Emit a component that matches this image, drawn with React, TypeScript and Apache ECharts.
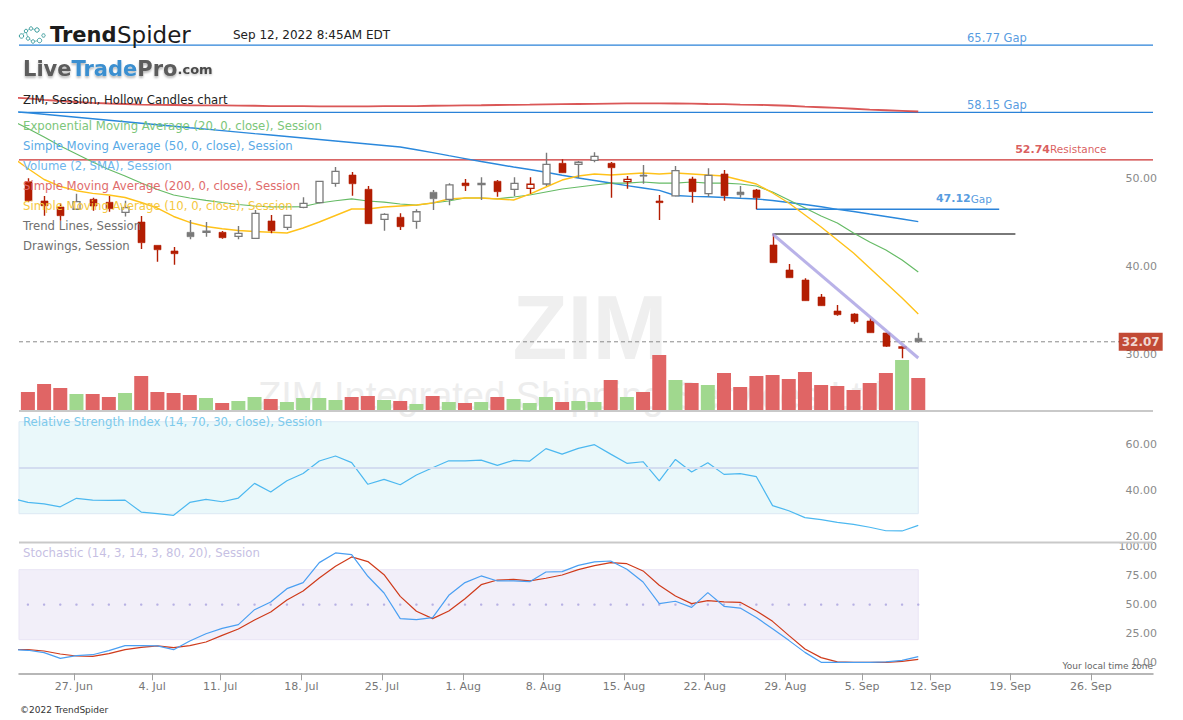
import React, { useEffect, useRef } from "react";
import * as echarts from "echarts";

// ---------- DATA ----------
// index 0 = 21 Jun (off-screen, only for line continuity), candles are indices 1..56
const dates = [
  "2022-06-21", "2022-06-22", "2022-06-23", "2022-06-24", "2022-06-27", "2022-06-28", "2022-06-29", "2022-06-30", "2022-07-01",
  "2022-07-05", "2022-07-06", "2022-07-07", "2022-07-08", "2022-07-11", "2022-07-12", "2022-07-13", "2022-07-14", "2022-07-15",
  "2022-07-18", "2022-07-19", "2022-07-20", "2022-07-21", "2022-07-22", "2022-07-25", "2022-07-26", "2022-07-27", "2022-07-28", "2022-07-29",
  "2022-08-01", "2022-08-02", "2022-08-03", "2022-08-04", "2022-08-05", "2022-08-08", "2022-08-09", "2022-08-10", "2022-08-11", "2022-08-12",
  "2022-08-15", "2022-08-16", "2022-08-17", "2022-08-18", "2022-08-19", "2022-08-22", "2022-08-23", "2022-08-24", "2022-08-25", "2022-08-26",
  "2022-08-29", "2022-08-30", "2022-08-31", "2022-09-01", "2022-09-02", "2022-09-06", "2022-09-07", "2022-09-08", "2022-09-09",
];

const priorClose = 50.6;
const opens = [50.26, 48.07, 47.39, 47.13, 48.26, 47.92, 46.78, 45.68, 43.03, 42.39, 44.51, 44.6, 44.51, 44.06, 43.83, 45.8, 45.08, 47.35, 47.88, 50.08, 51.02, 49.4, 45.99, 46.22, 45.76, 49.06, 48.26, 50.11, 50.0, 50.31, 49.4, 49.51, 50.0, 52.35, 52.24, 52.69, 52.35, 50.26, 51.02, 48.07, 48.64, 50.57, 48.9, 51.14, 49.09, 49.32, 43.07, 40.23, 39.09, 37.16, 35.57, 35.23, 34.43, 33.07, 31.42, 32.47];
const highs = [50.65, 48.64, 47.81, 48.9, 48.44, 48.64, 48.1, 46.36, 43.05, 42.84, 45.91, 45.68, 44.66, 45.23, 47.05, 46.48, 46.48, 48.49, 50.34, 51.93, 51.36, 49.77, 46.67, 46.67, 47.12, 49.32, 50.08, 50.57, 50.76, 50.45, 50.76, 50.76, 53.56, 52.81, 52.61, 53.6, 52.5, 50.91, 52.16, 48.75, 52.05, 50.83, 51.78, 51.59, 49.77, 49.43, 44.32, 40.91, 39.28, 37.5, 36.25, 35.31, 34.74, 33.1, 31.62, 33.1];
const lows = [47.95, 46.4, 45.83, 47.05, 46.97, 46.85, 46.3, 42.61, 41.17, 40.83, 43.72, 44.01, 43.78, 43.72, 43.8, 44.4, 44.77, 47.24, 47.81, 49.69, 48.67, 45.45, 44.69, 44.77, 44.92, 47.05, 47.58, 49.2, 48.18, 48.56, 48.64, 48.9, 49.77, 51.25, 50.68, 52.47, 48.44, 49.47, 50.03, 45.91, 48.6, 47.88, 48.56, 48.1, 48.44, 47.12, 41.03, 39.32, 36.7, 36.14, 35.03, 34.13, 33.07, 31.48, 30.19, 31.97];
const closes = [48.1, 47.53, 46.4, 47.99, 47.5, 47.19, 47.31, 43.33, 42.53, 42.08, 44.01, 44.65, 43.9, 44.4, 46.67, 44.69, 46.44, 47.81, 50.31, 51.44, 50.03, 45.49, 46.56, 45.15, 46.85, 48.33, 49.89, 49.81, 50.08, 49.13, 50.08, 49.97, 52.24, 51.28, 52.47, 53.15, 51.85, 50.53, 50.98, 47.88, 51.51, 49.13, 50.99, 48.67, 48.78, 48.44, 41.06, 39.35, 36.74, 36.17, 35.15, 34.35, 33.1, 31.55, 31.5, 32.07];
// volume, millions of shares
const volumes = [3.74, 5.34, 4.54, 3.34, 3.34, 2.74, 3.54, 6.94, 3.74, 3.54, 3.14, 2.54, 1.54, 1.94, 2.74, 2.34, 1.74, 2.54, 2.54, 2.14, 2.74, 2.94, 2.14, 1.94, 1.34, 2.94, 1.74, 1.54, 1.74, 2.74, 2.34, 1.54, 2.74, 1.74, 1.94, 1.74, 6.14, 2.74, 3.74, 11.14, 6.14, 5.54, 5.14, 7.54, 4.74, 6.94, 7.14, 6.34, 7.74, 5.14, 4.94, 4.14, 5.54, 7.54, 10.14, 6.54];

// moving averages, indices 0..56
const sma10 = [53.07, 51.76, 50.51, 49.72, 49.24, 48.94, 48.75, 48.47, 47.9, 47.27, 46.31, 45.63, 45.17, 44.91, 44.72, 44.6, 44.52, 44.43, 45.0, 45.68, 46.42, 47.16, 47.16, 47.39, 47.5, 47.61, 47.84, 48.3, 48.41, 48.41, 48.3, 48.18, 48.86, 49.66, 50.45, 50.91, 51.14, 51.02, 51.14, 51.25, 51.14, 51.25, 51.14, 51.02, 50.91, 50.45, 50.0, 48.98, 47.84, 46.48, 45.11, 43.64, 42.16, 40.45, 38.75, 37.05, 35.23];
const ema20 = [57.22, 56.3, 55.34, 54.32, 53.41, 52.5, 51.65, 50.91, 50.11, 49.38, 48.75, 48.41, 48.15, 47.9, 47.67, 47.5, 47.39, 47.39, 47.44, 47.84, 48.1, 48.3, 48.07, 47.95, 47.73, 47.61, 47.84, 48.07, 48.41, 48.41, 48.3, 48.52, 48.75, 49.09, 49.43, 49.66, 49.89, 50.11, 50.11, 50.23, 50.11, 50.11, 50.23, 50.11, 50.11, 50.0, 49.77, 49.09, 48.18, 47.27, 46.36, 45.57, 44.43, 43.41, 42.5, 41.36, 40.0];
const sma50 = [58.24, 58.1, 57.93, 57.76, 57.59, 57.42, 57.25, 57.08, 56.91, 56.74, 56.57, 56.4, 56.24, 56.07, 55.9, 55.73, 55.57, 55.4, 55.23, 55.06, 54.89, 54.72, 54.55, 54.38, 54.2, 53.89, 53.56, 53.22, 52.89, 52.56, 52.24, 51.93, 51.65, 51.33, 51.0, 50.68, 50.4, 50.11, 49.82, 49.55, 49.28, 48.69, 48.6, 48.55, 48.47, 48.38, 48.3, 48.13, 47.9, 47.67, 47.41, 47.12, 46.88, 46.59, 46.31, 46.02, 45.72];
const sma200 = [59.83, 59.72, 59.57, 59.43, 59.32, 59.23, 59.15, 59.09, 59.03, 59.0, 58.98, 58.95, 58.94, 58.93, 58.91, 58.89, 58.86, 58.85, 58.84, 58.83, 58.83, 58.83, 58.83, 58.84, 58.85, 58.86, 58.89, 58.91, 58.93, 58.95, 58.98, 59.0, 59.02, 59.05, 59.07, 59.09, 59.11, 59.14, 59.16, 59.17, 59.16, 59.15, 59.13, 59.09, 59.07, 59.03, 59.0, 58.95, 58.89, 58.8, 58.72, 58.64, 58.55, 58.45, 58.38, 58.31, 58.24];

// indicators, indices 0..56
const rsi = [36.7, 34.9, 34.3, 33.0, 36.7, 35.9, 35.8, 35.9, 30.7, 30.0, 29.3, 34.9, 36.2, 35.2, 36.8, 43.2, 39.4, 44.3, 47.5, 52.9, 55.1, 52.2, 42.8, 44.9, 42.6, 46.8, 50.0, 53.0, 53.0, 53.3, 51.0, 53.2, 52.9, 58.3, 55.9, 58.4, 60.0, 55.9, 51.9, 52.6, 44.3, 53.6, 48.1, 52.2, 47.1, 47.4, 46.1, 33.5, 31.3, 28.3, 27.4, 26.2, 25.4, 24.1, 22.6, 22.5, 24.9];
const stochK = [11.4, 10.9, 8.9, 4.0, 6.3, 7.1, 10.6, 14.9, 14.9, 14.6, 11.4, 18.9, 25.1, 29.7, 32.9, 45.7, 52.3, 63.7, 68.9, 86.0, 94.3, 92.9, 74.3, 60.0, 38.0, 37.1, 38.9, 58.0, 68.9, 74.6, 70.3, 70.3, 69.7, 78.0, 78.3, 83.7, 86.6, 87.4, 80.3, 69.4, 50.9, 52.9, 47.7, 60.3, 48.6, 47.1, 38.9, 29.4, 19.4, 9.1, 0.6, 0.6, 0.6, 0.6, 0.9, 2.3, 5.4];
const stochD = [11.7, 11.4, 10.3, 7.7, 6.0, 5.7, 8.0, 11.4, 13.4, 14.6, 13.1, 14.9, 18.0, 23.7, 29.1, 36.9, 43.7, 54.0, 61.7, 72.9, 82.9, 90.9, 86.9, 75.7, 57.1, 44.3, 38.0, 44.6, 55.1, 67.1, 71.1, 71.7, 70.3, 72.6, 75.4, 80.0, 83.4, 86.0, 85.1, 78.9, 66.6, 57.4, 50.9, 53.4, 52.3, 52.0, 44.6, 35.7, 23.7, 12.0, 4.6, 0.9, 0.6, 0.6, 0.6, 1.4, 3.1];

// x-axis week ticks (positions on the bar-index scale) and their labels
const tickPos = [3.84, 8.68, 12.87, 17.89, 22.87, 27.89, 32.85, 37.82, 42.81, 47.79, 52.53, 56.75, 61.67, 66.66];
const tickLabels = ["27. Jun", "4. Jul", "11. Jul", "18. Jul", "25. Jul", "1. Aug", "8. Aug", "15. Aug", "22. Aug", "29. Aug", "5. Sep", "12. Sep", "19. Sep", "26. Sep"];

// drawings
const fullGaps = [65.77, 58.15];
const resistance = 52.74;
const gap47 = { from: 46, to: 61.0, price: 47.12 };
const shelf = { from: 47, to: 62.0, price: 44.32 };
const trendLine = [[47, 44.32], [56, 30.23]];
const lastPrice = 32.07;
const priceTicks = [30, 40, 50];
const rsiTicks = [20, 40, 60];
const stochTicks = [0, 25, 50, 75, 100];

// ---------- CHART ----------
const X_MIN = 0.45;
const X_MAX = 70.5;
const FONT = "DejaVu Sans";
const RED = "#b31d02";
const GRAY = "#7a7a7a";

function buildOption(): any {
  const candleData = opens.map((o, i) => [i + 1, o, closes[i], lows[i], highs[i], i === 0 ? priorClose : closes[i - 1]]);
  const volData = volumes.map((v, i) => ({
    value: [i + 1, v],
    itemStyle: { color: closes[i] >= opens[i] ? "#a0d88e" : "#e06565" },
  }));
  const line = (name: string, data: number[], color: string, width: number, extra: any = {}) => ({
    type: "line",
    name,
    xAxisIndex: 0,
    yAxisIndex: 0,
    data: data.map((v, i) => [i, v]),
    showSymbol: false,
    symbol: "none",
    silent: true,
    z: 4,
    lineStyle: { color, width },
    ...extra,
  });
  const seg = (pts: number[][], color: string, width: number) => ({
    type: "line",
    xAxisIndex: 0,
    yAxisIndex: 0,
    data: pts,
    showSymbol: false,
    symbol: "none",
    silent: true,
    z: 3,
    lineStyle: { color, width },
  });
  const tickFmt = (v: number) => {
    const k = tickPos.findIndex((t) => Math.abs(t - v) < 1e-6);
    return k >= 0 ? tickLabels[k] : "";
  };

  const legendItems: [string, string][] = [
    ["ZIM, Session, Hollow Candles chart", "#222222"],
    ["Exponential Moving Average (20, 0, close), Session", "#7cc67a"],
    ["Simple Moving Average (50, 0, close), Session", "#5aaae6"],
    ["Volume (2, SMA), Session", "#6db6ec"],
    ["Simple Moving Average (200, 0, close), Session", "#e06c6c"],
    ["Simple Moving Average (10, 0, close), Session", "#f5c842"],
    ["Trend Lines, Session", "#707070"],
    ["Drawings, Session", "#707070"],
  ];
  const legendY = [100, 126, 146, 166, 186, 206, 226, 246];

  const icon: any[] = [];
  const dots = [[21.5, 36], [26, 31], [31, 28.5], [37, 30], [28, 38.5], [33, 41.5], [39.5, 40.5], [43.5, 35.5]];
  const links = [[0, 1], [1, 2], [1, 4], [4, 5], [5, 6], [2, 3]];
  links.forEach(([a, b]) =>
    icon.push({ type: "line", shape: { x1: dots[a][0], y1: dots[a][1], x2: dots[b][0], y2: dots[b][1] }, style: { stroke: "#5fb3b3", lineWidth: 0.8 }, z: 100 })
  );
  dots.forEach(([x, y], k) =>
    icon.push({ type: "circle", shape: { cx: x, cy: y, r: k % 3 === 0 ? 2.2 : 1.7 }, style: { fill: "#fff", stroke: "#3a9c9c", lineWidth: 1 }, z: 101 })
  );

  const logoShadow = { textShadowColor: "rgba(0,0,0,0.28)", textShadowBlur: 2, textShadowOffsetY: 2 };

  const graphic: any[] = [
    // watermark
    { type: "text", z: -10, style: { text: "ZIM", x: 590, y: 328, font: `bold 90px "Liberation Sans"`, fill: "#efefef", textAlign: "center", textVerticalAlign: "middle" } },
    { type: "text", z: -10, style: { text: "ZIM Integrated Shipping Services Ltd", x: 258, y: 396, font: `38px "Liberation Sans"`, fill: "#ededed", textAlign: "left", textVerticalAlign: "middle" } },
    // header
    ...icon,
    { type: "text", z: 100, style: { text: "Trend", x: 50, y: 35, font: `bold 21px "${FONT}"`, fill: "#1c1c1c", textAlign: "left", textVerticalAlign: "middle" } },
    { type: "text", z: 100, style: { text: "Spider", x: 117, y: 35, font: `23px "${FONT}"`, fill: "#1c1c1c", textAlign: "left", textVerticalAlign: "middle" } },
    { type: "text", z: 100, style: { text: "Sep 12, 2022 8:45AM EDT", x: 233, y: 35, font: `12px "${FONT}"`, fill: "#222", textAlign: "left", textVerticalAlign: "middle" } },
    {
      type: "text",
      z: 100,
      style: {
        text: "{a|Live}{b|Trade}{a|Pro}{c|.com}",
        x: 23,
        y: 69,
        textAlign: "left",
        textVerticalAlign: "middle",
        rich: {
          a: { fontSize: 21, fontWeight: "bold", fontFamily: FONT, fill: "#5c5c5c", ...logoShadow },
          b: { fontSize: 21, fontWeight: "bold", fontFamily: FONT, fill: "#3a8fd0", ...logoShadow },
          c: { fontSize: 13, fontWeight: "bold", fontFamily: FONT, fill: "#4a4a4a", ...logoShadow, textShadowOffsetY: 1 },
        },
      },
    },
    ...legendItems.map(([t, c], k) => ({ type: "text", z: 100, style: { text: t, x: 23, y: legendY[k], font: `11.7px "${FONT}"`, fill: c, textAlign: "left", textVerticalAlign: "middle" } })),
    // pane separators
    { type: "line", z: 50, shape: { x1: 19, y1: 411, x2: 1153, y2: 411 }, style: { stroke: "#c9c9c9", lineWidth: 2 } },
    { type: "line", z: 50, shape: { x1: 19, y1: 542.5, x2: 1153, y2: 542.5 }, style: { stroke: "#c9c9c9", lineWidth: 2 } },
    // pane titles
    { type: "text", z: 100, style: { text: "Relative Strength Index (14, 70, 30, close), Session", x: 23, y: 422, font: `11.7px "${FONT}"`, fill: "#7dcaec", textAlign: "left", textVerticalAlign: "middle" } },
    { type: "text", z: 100, style: { text: "Stochastic (14, 3, 14, 3, 80, 20), Session", x: 23, y: 553, font: `11.7px "${FONT}"`, fill: "#c6bfe3", textAlign: "left", textVerticalAlign: "middle" } },
    { type: "text", z: 100, style: { text: "Your local time zone", x: 1153, y: 666, font: `9px "${FONT}"`, fill: "#666", textAlign: "right", textVerticalAlign: "middle" } },
    { type: "text", z: 100, style: { text: "©2022 TrendSpider", x: 20, y: 710, font: `9px "${FONT}"`, fill: "#333", textAlign: "left", textVerticalAlign: "middle" } },
  ];

  const xAxes = [0, 1, 2].map((g) => ({
    type: "value",
    gridIndex: g,
    min: X_MIN,
    max: X_MAX,
    show: g === 2,
    splitLine: { show: false },
    axisLine: { show: true, onZero: false, lineStyle: { color: "#a0a0a0", width: 1.5 } },
    axisTick: { show: true, customValues: tickPos, length: 7, lineStyle: { color: "#a0a0a0" } },
    axisLabel: { show: true, customValues: tickPos, formatter: tickFmt, color: "#777", fontSize: 11, fontFamily: FONT, margin: 8 },
  }));

  const yLab = (vals: number[], extra: any = {}) => ({
    show: true,
    customValues: vals,
    formatter: (v: number) => v.toFixed(2),
    color: "#8a8a8a",
    fontSize: 11,
    fontFamily: FONT,
    align: "right",
    margin: 4,
    ...extra,
  });

  const yAxes = [
    { type: "value", gridIndex: 0, position: "right", min: 24.24, max: 67.5, splitLine: { show: false }, axisLine: { show: false }, axisTick: { show: false }, axisLabel: yLab(priceTicks, { verticalAlign: "bottom" }) },
    { type: "value", gridIndex: 0, min: 0, max: 76.14, show: false, splitLine: { show: false } },
    { type: "value", gridIndex: 1, position: "right", min: 17.7, max: 74.35, splitLine: { show: false }, axisLine: { show: false }, axisTick: { show: false }, axisLabel: yLab(rsiTicks) },
    { type: "value", gridIndex: 2, position: "right", min: -8.83, max: 102.83, splitLine: { show: false }, axisLine: { show: false }, axisTick: { show: false }, axisLabel: yLab(stochTicks) },
  ];

  const lastIdx = dates.length - 1;

  const series: any[] = [
    {
      type: "bar",
      name: "Volume",
      xAxisIndex: 0,
      yAxisIndex: 1,
      data: volData,
      barWidth: 14,
      z: 1,
      silent: true,
    },
    // horizontal drawings
    ...fullGaps.map((p) => seg([[X_MIN, p], [X_MAX, p]], "#2a82d8", 1.3)),
    seg([[X_MIN, resistance], [X_MAX, resistance]], "#cc3232", 1.3),
    seg([[gap47.from, gap47.price], [gap47.to, gap47.price]], "#2a82d8", 1.5),
    seg([[shelf.from, shelf.price], [shelf.to, shelf.price]], "#4d4d4d", 1.5),
    {
      type: "line",
      xAxisIndex: 0,
      yAxisIndex: 0,
      data: trendLine,
      showSymbol: false,
      symbol: "none",
      silent: true,
      z: 6,
      lineStyle: { color: "#a79fe2", width: 3, opacity: 0.8 },
    },
    {
      type: "line",
      xAxisIndex: 0,
      yAxisIndex: 0,
      data: [[X_MIN, lastPrice], [68.45, lastPrice]],
      showSymbol: false,
      symbol: "none",
      silent: true,
      z: 3,
      lineStyle: { color: "#8a8a8a", width: 1, type: [4, 3] },
    },
    // moving averages
    line("SMA200", sma200, "#d43a3a", 1.8, { lineStyle: { color: "#d43a3a", width: 1.8, opacity: 0.85 } }),
    line("SMA50", sma50, "#2a88dc", 1.4),
    line("EMA20", ema20, "#66bb66", 1.2),
    line("SMA10", sma10, "#ffc21a", 1.4),
    // candles
    {
      type: "custom",
      name: "ZIM",
      xAxisIndex: 0,
      yAxisIndex: 0,
      data: candleData,
      encode: { x: 0, y: [1, 2, 3, 4] },
      clip: true,
      z: 5,
      silent: true,
      renderItem: (params: any, api: any) => {
        const i = api.value(0);
        const o = api.value(1);
        const c = api.value(2);
        const l = api.value(3);
        const h = api.value(4);
        const pc = api.value(5);
        const pO = api.coord([i, o]);
        const pC = api.coord([i, c]);
        const pL = api.coord([i, l]);
        const pH = api.coord([i, h]);
        const x = Math.round(pO[0]) + 0.5;
        const color = c > pc ? GRAY : RED;
        const hollow = c > o;
        const top = Math.min(pO[1], pC[1]);
        const bot = Math.max(pO[1], pC[1]);
        const bw = 7;
        const ht = Math.max(bot - top, 1.2);
        return {
          type: "group",
          children: [
            { type: "line", shape: { x1: x, y1: pH[1], x2: x, y2: top }, style: { stroke: color, lineWidth: 1.4 } },
            { type: "line", shape: { x1: x, y1: top + ht, x2: x, y2: Math.max(pL[1], top + ht) }, style: { stroke: color, lineWidth: 1.4 } },
            {
              type: "rect",
              shape: { x: x - bw / 2, y: top, width: bw, height: ht },
              style: { fill: hollow ? "#ffffff" : color, stroke: color, lineWidth: hollow ? 1.3 : 0.6 },
            },
          ],
        };
      },
    },
    // drawing labels and last price tag
    {
      type: "scatter",
      xAxisIndex: 0,
      yAxisIndex: 0,
      symbolSize: 0,
      silent: true,
      z: 10,
      data: [
        { value: [60.86, fullGaps[0]], label: { show: true, formatter: `${fullGaps[0].toFixed(2)} Gap`, position: "top", distance: 1, color: "#2a82d8", fontSize: 11.5, fontFamily: FONT } },
        { value: [60.86, fullGaps[1]], label: { show: true, formatter: `${fullGaps[1].toFixed(2)} Gap`, position: "top", distance: 1, color: "#2a82d8", fontSize: 11.5, fontFamily: FONT } },
        {
          value: [64.81, resistance],
          label: {
            show: true,
            formatter: `{b|${resistance.toFixed(2)}}{n|Resistance}`,
            position: "top",
            distance: 5,
            rich: { b: { fontWeight: "bold", fontSize: 11, color: "#d03434", fontFamily: FONT }, n: { fontSize: 10.5, color: "#d03434", fontFamily: FONT } },
          },
        },
        {
          value: [58.82, gap47.price],
          label: {
            show: true,
            formatter: `{b|${gap47.price.toFixed(2)}}{n|Gap}`,
            position: "top",
            distance: 5,
            rich: { b: { fontWeight: "bold", fontSize: 11, color: "#2a82d8", fontFamily: FONT }, n: { fontSize: 10.5, color: "#2a82d8", fontFamily: FONT } },
          },
        },
        {
          value: [69.74, lastPrice],
          label: {
            show: true,
            formatter: lastPrice.toFixed(2),
            position: "inside",
            backgroundColor: RED,
            color: "#ffffff",
            fontWeight: "bold",
            fontSize: 12,
            fontFamily: FONT,
            padding: [3, 3, 3, 3],
          },
        },
      ],
    },
    // RSI
    {
      type: "line",
      name: "RSI",
      xAxisIndex: 1,
      yAxisIndex: 2,
      data: rsi.map((v, i) => [i, v]),
      showSymbol: false,
      symbol: "none",
      silent: true,
      z: 4,
      lineStyle: { color: "#4cb8f0", width: 1.2 },
      markArea: {
        silent: true,
        itemStyle: { color: "#eaf8fa", borderColor: "#dce9f4", borderWidth: 1 },
        data: [[{ xAxis: X_MIN, yAxis: 30 }, { xAxis: lastIdx, yAxis: 70 }]],
      },
      markLine: {
        silent: true,
        symbol: "none",
        label: { show: false },
        lineStyle: { color: "#d3ddf0", width: 2, type: "solid" },
        data: [[{ coord: [X_MIN, 50] }, { coord: [lastIdx, 50] }]],
      },
    },
    // Stochastic
    {
      type: "line",
      name: "%D",
      xAxisIndex: 2,
      yAxisIndex: 3,
      data: stochD.map((v, i) => [i, v]),
      showSymbol: false,
      symbol: "none",
      silent: true,
      z: 4,
      lineStyle: { color: "#cf3b1b", width: 1.2 },
      markArea: {
        silent: true,
        itemStyle: { color: "#f2eff9", borderColor: "#e9e5f5", borderWidth: 1 },
        data: [[{ xAxis: X_MIN, yAxis: 20 }, { xAxis: lastIdx, yAxis: 80 }]],
      },
    },
    {
      type: "line",
      name: "%K",
      xAxisIndex: 2,
      yAxisIndex: 3,
      data: stochK.map((v, i) => [i, v]),
      showSymbol: false,
      symbol: "none",
      silent: true,
      z: 4,
      lineStyle: { color: "#4a9ff2", width: 1.2 },
    },
    {
      type: "scatter",
      xAxisIndex: 2,
      yAxisIndex: 3,
      data: dates.slice(1).map((_, i) => [i + 1, 50]),
      symbolSize: 2.4,
      silent: true,
      z: 3,
      itemStyle: { color: "#a9a1de" },
    },
  ];

  return {
    animation: false,
    backgroundColor: "#ffffff",
    textStyle: { fontFamily: FONT },
    grid: [
      { left: 19, width: 1134, top: 30, height: 380.7 },
      { left: 19, width: 1134, top: 411.7, height: 130.3 },
      { left: 19, width: 1134, top: 543, height: 130.3 },
    ],
    xAxis: xAxes,
    yAxis: yAxes,
    graphic,
    series,
  };
}

export default function App() {
  const ref = useRef<HTMLDivElement>(null);
  useEffect(() => {
    document.body.style.margin = "0";
    const chart = echarts.init(ref.current as HTMLDivElement, null, { renderer: "svg" });
    chart.setOption(buildOption());
    return () => chart.dispose();
  }, []);
  return <div ref={ref} style={{ width: 1183, height: 720 }} />;
}
